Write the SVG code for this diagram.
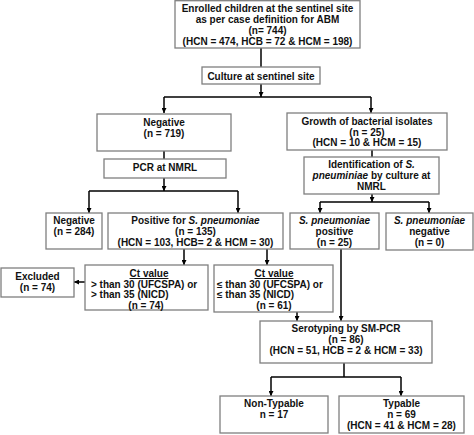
<svg xmlns="http://www.w3.org/2000/svg" width="474" height="435" viewBox="0 0 474 435">
<defs>
<marker id="ah" viewBox="0 0 10 10" refX="10" refY="5" markerWidth="5" markerHeight="5" markerUnits="userSpaceOnUse" orient="auto"><path d="M0,0 L10,5 L0,10 z" fill="#000"/></marker>
<style>
rect.b{fill:#fff;stroke:#7f7f7f;stroke-width:1.3}
text{font-family:"Liberation Sans",Arial,sans-serif;font-weight:bold;font-size:10px;fill:#111;text-anchor:middle}
text.l{text-anchor:start}
.i{font-style:italic}
.u{text-decoration:underline}
#connectors path{fill:none;stroke:#000;stroke-width:1.5}
#connectors .a{marker-end:url(#ah)}
</style>
</defs>
<rect width="474" height="435" fill="#fff"/>
<g id="connectors">
<path d="M261,48 V67"/>
<path class="a" d="M261,84 V97"/>
<path d="M164,97 H371"/>
<path class="a" d="M164,97 V113"/>
<path class="a" d="M371,97 V113"/>
<path d="M164,151 V159"/>
<path d="M372,150 V157"/>
<path class="a" d="M164,178 V191"/>
<path d="M89,191 H238"/>
<path class="a" d="M89,191 V213"/>
<path class="a" d="M238,191 V213"/>
<path class="a" d="M372,194 V202"/>
<path d="M320,202 H429"/>
<path class="a" d="M320,202 V213"/>
<path class="a" d="M429,202 V213"/>
<path class="a" d="M184,249 V265"/>
<path class="a" d="M267,249 V265"/>
<path class="a" d="M85,282 H74"/>
<path class="a" d="M297,312 V321"/>
<path class="a" d="M341,249 V321"/>
<path d="M344,363 V377"/>
<path d="M271,377 H401"/>
<path class="a" d="M271,377 V396"/>
<path class="a" d="M401,377 V396"/>
</g>
<g id="enrolled"><rect class="b" x="175" y="0.7" width="185" height="47.3"/>
<text x="267.5" y="12">Enrolled children at the sentinel site</text>
<text x="267.5" y="23">as per case definition for ABM</text>
<text x="267.5" y="34">(n= 744)</text>
<text x="267.5" y="45">(HCN = 474, HCB = 72 &amp; HCM = 198)</text></g>
<g id="culture"><rect class="b" x="202" y="67" width="118" height="17"/>
<text x="261" y="79.5">Culture at sentinel site</text></g>
<g id="negative1"><rect class="b" x="97" y="114" width="134" height="37"/>
<text x="164" y="125.5">Negative</text><text x="164" y="136.5">(n = 719)</text></g>
<g id="growth"><rect class="b" x="287" y="113" width="160" height="37"/>
<text x="367" y="124.5">Growth of bacterial isolates</text>
<text x="367" y="135.5">(n = 25)</text>
<text x="367" y="146">(HCN = 10 &amp; HCM = 15)</text></g>
<g id="pcr"><rect class="b" x="104" y="159" width="122" height="19"/>
<text x="165" y="171">PCR at NMRL</text></g>
<g id="ident"><rect class="b" x="304" y="157" width="135" height="37"/>
<text x="371.5" y="167.5">Identification of <tspan class="i">S.</tspan></text>
<text x="371.5" y="178.5"><tspan class="i">pneuminiae</tspan> by culture at</text>
<text x="371.5" y="189.5">NMRL</text></g>
<g id="negative2"><rect class="b" x="46" y="213" width="56" height="36"/>
<text x="74" y="223.5">Negative</text><text x="74" y="234.5">(n = 284)</text></g>
<g id="positive"><rect class="b" x="108" y="213" width="175" height="36"/>
<text x="195.5" y="223.5">Positive for <tspan class="i">S. pneumoniae</tspan></text>
<text x="195.5" y="234.5">(n = 135)</text>
<text x="195.5" y="245.5">(HCN = 103, HCB= 2 &amp; HCM = 30)</text></g>
<g id="spos"><rect class="b" x="290" y="213" width="89" height="36"/>
<text x="334.5" y="223.5" class="i">S. pneumoniae</text>
<text x="334.5" y="234.5">positive</text>
<text x="334.5" y="245.5">(n = 25)</text></g>
<g id="sneg"><rect class="b" x="386" y="213" width="87" height="37"/>
<text x="429.5" y="223.5" class="i">S. pneumoniae</text>
<text x="429.5" y="234.5">negative</text>
<text x="429.5" y="245.5">(n = 0)</text></g>
<g id="excluded"><rect class="b" x="1" y="268" width="73" height="29"/>
<text x="37.5" y="279.5">Excluded</text><text x="37.5" y="290.5">(n = 74)</text></g>
<g id="ct-high"><rect class="b" x="85" y="265" width="123" height="45"/>
<text x="149" y="277" class="u">Ct value</text>
<text x="91" y="287.5" class="l">&gt; than 30 (UFCSPA) or</text>
<text x="91" y="298" class="l">&gt; than 35 (NICD)</text>
<text x="146" y="308.5">(n = 74)</text></g>
<g id="ct-low"><rect class="b" x="214" y="265" width="119" height="47"/>
<text x="274" y="277" class="u">Ct value</text>
<text x="217" y="287.5" class="l">≤ than 30 (UFCSPA) or</text>
<text x="217" y="298" class="l">≤ than 35 (NICD)</text>
<text x="274" y="308.5">(n = 61)</text></g>
<g id="serotyping"><rect class="b" x="260" y="321" width="172" height="42"/>
<text x="346" y="332">Serotyping by SM-PCR</text>
<text x="346" y="343">(n = 86)</text>
<text x="346" y="354">(HCN = 51, HCB = 2 &amp; HCM = 33)</text></g>
<g id="nontypable"><rect class="b" x="220" y="396" width="108" height="37"/>
<text x="274" y="406.5">Non-Typable</text><text x="274" y="417.5">n = 17</text></g>
<g id="typable"><rect class="b" x="339" y="396" width="125" height="37"/>
<text x="401.5" y="406.5">Typable</text>
<text x="401.5" y="417.5">n = 69</text>
<text x="401.5" y="428.5">(HCN = 41 &amp; HCM = 28)</text></g>
</svg>
